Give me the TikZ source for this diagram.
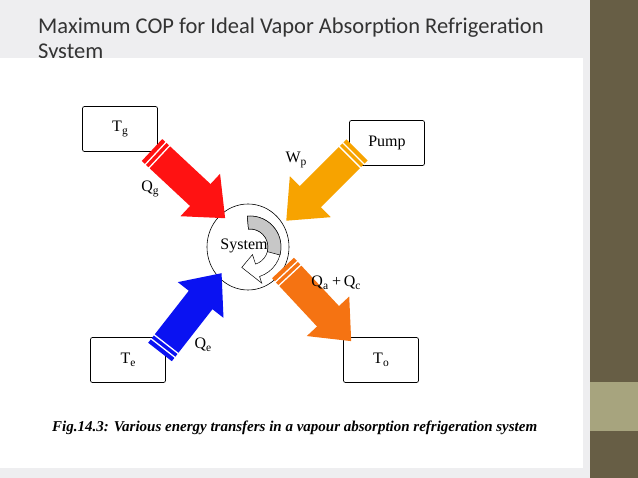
\documentclass[tikz,border=0pt]{standalone}
\usepackage{fontspec}
\setmainfont{Liberation Serif}
\newfontfamily\titlefont{Carlito}
\usetikzlibrary{calc,shapes.geometric}
\newcommand{\sbs}[1]{\raisebox{-3pt}{\fontsize{11.5}{11}\selectfont #1}}
\definecolor{bg}{HTML}{EEEEF0}
\definecolor{dark}{HTML}{675E45}
\definecolor{lite}{HTML}{A7A47E}
\definecolor{cred}{HTML}{FF1212}
\definecolor{cyel}{HTML}{F7A300}
\definecolor{cblu}{HTML}{0A12F2}
\definecolor{corg}{HTML}{F57312}
\tikzset{
  box/.style={draw=black,line width=0.7pt,rounded corners=2pt,minimum width=75pt,minimum height=45pt},
  lbl/.style={font=\fontsize{16}{16}\selectfont,inner sep=0pt},
}
\newcommand{\fatarrow}[4]{% color, x, y, angle ; length fixed
\begin{scope}[shift={(#2,#3)},rotate=#4]
\fill[#1] (0,-15) -- (66,-15) -- (66,-29) -- (100,0) -- (66,29) -- (66,15) -- (0,15) -- cycle;
\draw[white,line width=1.3pt] (5,-16) -- (5,16) (10,-16) -- (10,16);
\end{scope}}
\begin{document}
\begin{tikzpicture}[x=1pt,y=-1pt]
\useasboundingbox (0,0) rectangle (638,478);
\fill[bg] (0,0) rectangle (638,478);
\node[anchor=west,inner sep=0pt,font=\titlefont\fontsize{22.5}{25}\selectfont,text=black!80,align=left] (title) at (38,40) {Maximum COP for Ideal Vapor Absorption Refrigeration\\System};
\fill[white] (0,58) rectangle (583,468);
\fill[dark] (590,0) rectangle (638,478);
\fill[lite] (590,382) rectangle (638,431);
% boxes
\node[box] (tg) at (120,129) {};
\node[lbl] at (tg) {T\sbs{g}};
\node[box] (pump) at (387,143) {};
\node[lbl] at (pump) {Pump};
\node[box] (te) at (128,360) {};
\node[lbl] at (te) {T\sbs{e}};
\node[box] (to) at (381,360) {};
\node[lbl] at (to) {T\sbs{o}};
% system
\node[draw,ellipse,minimum width=82pt,minimum height=86pt,line width=0.6pt,inner sep=0pt] (sys) at (248,247) {};
\begin{scope}[shift={(250,247)}]
\path[fill=white,draw=black,line width=0.5pt] (-95:31) arc[start angle=-95,end angle=72,radius=31] -- (72:38) -- (112:22) -- (72:8) -- (72:18) arc[start angle=72,end angle=-95,radius=18] -- cycle;
\path[fill=black!22,draw=black,line width=0.5pt] (-95:31) arc[start angle=-95,end angle=15,radius=31] -- (15:18) arc[start angle=15,end angle=-95,radius=18] -- cycle;
\end{scope}
\node[lbl] at (244,246) {System};
% arrows
\fatarrow{cred}{152}{150}{-43}
\fatarrow{cyel}{357}{150}{-135}
\fatarrow{cblu}{160}{352}{52}
\fatarrow{corg}{283}{268}{-47}
\node[lbl] at (150,189) {Q\sbs{g}};
\node[lbl] at (296,160) {W\sbs{p}};
\node[lbl] at (336,283) {Q\sbs{a} +\,Q\sbs{c}};
\node[lbl] at (203,345) {Q\sbs{e}};
\node[anchor=west,inner sep=0pt,font=\fontsize{15}{14}\selectfont\bfseries\itshape] (cap) at (52,428) {Fig.14.3: Various energy transfers in a vapour absorption refrigeration system};
\end{tikzpicture}
\end{document}
